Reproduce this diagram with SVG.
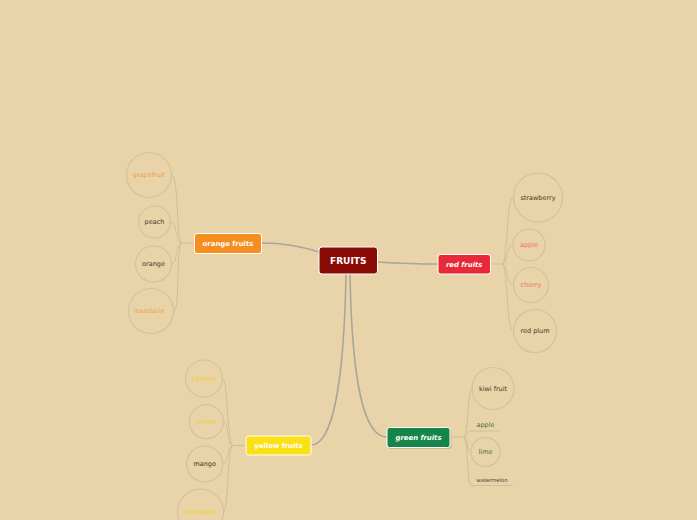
<svg xmlns="http://www.w3.org/2000/svg" width="697" height="520" viewBox="0 0 697 520">
<style>
.main{fill:none;stroke:#A9A59B;stroke-width:1.5}
.sub{fill:none;stroke:#CDBF9F;stroke-width:1}
.circ{fill:none;stroke:#D3C29E;stroke-width:1.2}
.box{stroke:#FFFFFF;stroke-width:1}
.t{font-family:"DejaVu Sans",Verdana,sans-serif;font-size:6.5px;text-anchor:middle}
.bt{font-family:"DejaVu Sans",Verdana,sans-serif;font-size:7px;font-weight:bold;fill:#FFFFFF;text-anchor:middle}
.dark{fill:#3E3828}
</style>
<rect width="697" height="520" fill="#E8D4A8"/>
<g id="connectors">
<path class="main" d="M319,252 C298,245 282,243 261,243"/>
<path class="main" d="M377,262 C400,263 420,264 438,264"/>
<path class="main" d="M346,274 C344,385 332,445 311,445"/>
<path class="main" d="M350,274 C352,385 364,437 387,437"/>
<path class="sub" d="M195,243 L182,243 C176,243 179,175 171.5,175"/>
<path class="sub" d="M182,243 C175,243 178,222 170.5,222"/>
<path class="sub" d="M182,243 C175,243 178,264 171.5,264"/>
<path class="sub" d="M182,243 C176,243 180,311 174,311"/>
<path class="sub" d="M490,264 L502,264 C508,264 506,197 513.5,197"/>
<path class="sub" d="M502,264 C508,264 506,245 513,245"/>
<path class="sub" d="M502,264 C508,264 506,285 513.5,285"/>
<path class="sub" d="M502,264 C508,264 506,331 513.5,331"/>
<path class="sub" d="M246,445.5 L233,445.5 C227,445.5 228,378 222.5,378"/>
<path class="sub" d="M233,445.5 C227,445.5 229,421.5 223,421.5"/>
<path class="sub" d="M233,445.5 C227,445.5 229,464 222.5,464"/>
<path class="sub" d="M233,445.5 C227,445.5 229,512 223,512"/>
<path class="sub" d="M450,437 L463,437 C469,437 467,388.5 472,388.5"/>
<path class="sub" d="M463,437 C468,437 466,431 472,431 L499,431"/>
<path class="sub" d="M463,437 C469,437 466,452 470.5,452"/>
<path class="sub" d="M463,437 C469,437 466,485.5 472,485.5 L513,485.5"/>
</g>
<g id="fruits">
<rect class="box" x="319" y="247" width="58.5" height="27" rx="3" fill="#8A0A05"/>
<text class="bt" x="348.2" y="264.3" style="font-size:9px">FRUITS</text>
</g>
<g id="orange-fruits">
<rect class="box" x="194.5" y="233.5" width="67" height="20" rx="2.5" fill="#F58E1E"/>
<text class="bt" x="228" y="245.8" style="font-size:6.9px">orange fruits</text>
</g>
<g id="red-fruits">
<rect class="box" x="438" y="254.5" width="52.5" height="19.5" rx="2.5" fill="#E8293A"/>
<text class="bt" x="464.2" y="266.5" style="font-size:6.9px;font-style:italic">red fruits</text>
</g>
<g id="yellow-fruits">
<rect class="box" x="246" y="436" width="65" height="19" rx="2.5" fill="#FBE016"/>
<text class="bt" x="278.5" y="448" style="font-size:6.9px">yellow fruits</text>
</g>
<g id="green-fruits">
<rect x="388.5" y="429" width="63" height="20" rx="2.5" fill="#B9A884" opacity="0.6"/>
<rect class="box" x="387" y="427.5" width="63" height="20" rx="2.5" fill="#168648"/>
<text class="bt" x="418.5" y="439.8" style="font-size:6.9px;font-style:italic">green fruits</text>
</g>
<g id="grapefruit"><circle class="circ" cx="149" cy="175" r="22.5"/><text class="t" x="149" y="177.3" fill="#F2A048">grapefruit</text></g>
<g id="peach"><circle class="circ" cx="154.5" cy="222" r="16"/><text class="t dark" x="154.5" y="224.3">peach</text></g>
<g id="orange"><circle class="circ" cx="153.5" cy="264" r="18"/><text class="t dark" x="153.5" y="266.3">orange</text></g>
<g id="mandarin"><circle class="circ" cx="151" cy="311" r="22.5"/><text class="t" x="149" y="313.3" fill="#F2A048">mandarin</text></g>
<g id="strawberry"><circle class="circ" cx="538" cy="197.5" r="24.5"/><text class="t dark" x="538" y="199.8">strawberry</text></g>
<g id="apple-red"><circle class="circ" cx="529" cy="245" r="16"/><text class="t" x="529" y="247.3" fill="#EE7560">apple</text></g>
<g id="cherry"><circle class="circ" cx="531" cy="285" r="17.5"/><text class="t" x="531" y="287.3" fill="#EE7560">cherry</text></g>
<g id="red-plum"><circle class="circ" cx="535" cy="331" r="21.5"/><text class="t dark" x="535" y="333.3">red plum</text></g>
<g id="banana"><circle class="circ" cx="204" cy="378.5" r="18.5"/><text class="t" x="204" y="380.8" fill="#F4CF3A">banana</text></g>
<g id="lemon"><circle class="circ" cx="206.3" cy="421.7" r="17"/><text class="t" x="206.3" y="424" fill="#F4CF3A">lemon</text></g>
<g id="mango"><circle class="circ" cx="204.7" cy="464" r="18"/><text class="t dark" x="204.7" y="466.3">mango</text></g>
<g id="pineapple"><circle class="circ" cx="200.5" cy="512" r="23"/><text class="t" x="200.5" y="514.3" fill="#F4CF3A">pineapple</text></g>
<g id="kiwi-fruit"><circle class="circ" cx="493" cy="388.5" r="21"/><text class="t dark" x="493" y="390.8">kiwi fruit</text></g>
<g id="apple-green"><text class="t" x="485.5" y="426.5" fill="#4F6A3A">apple</text></g>
<g id="lime"><circle class="circ" cx="485.5" cy="452" r="14.5"/><text class="t" x="485.5" y="454.3" fill="#4F6A3A">lime</text></g>
<g id="watermelon"><text class="t dark" x="492" y="482" style="font-size:5.2px">watermelon</text></g>
</svg>
